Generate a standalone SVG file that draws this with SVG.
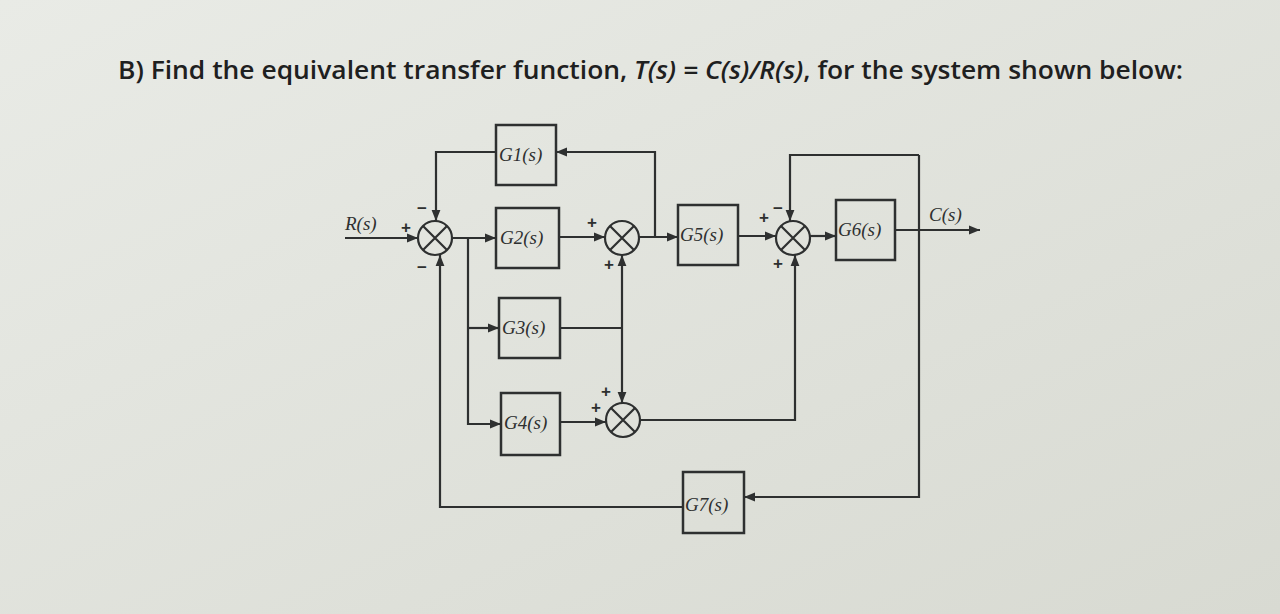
<svg xmlns="http://www.w3.org/2000/svg" width="1280" height="614" viewBox="0 0 1280 614">
<defs>
<linearGradient id="bg" x1="0" y1="0" x2="1" y2="1"><stop offset="0" stop-color="#e9ebe6"/><stop offset="1" stop-color="#d8dad2"/></linearGradient>
<marker id="a" viewBox="0 0 10 10" refX="10" refY="5" markerWidth="5" markerHeight="5" orient="auto"><path d="M0,1 L10,5 L0,9 z" fill="#2e3030"/></marker>
</defs>
<style>
.b{fill:none;stroke:#2e3030;stroke-width:2.5}
.w{fill:none;stroke:#2e3030;stroke-width:2.2}
.t{font-family:"Liberation Serif",serif;font-style:italic;font-size:19px;fill:#2e3030}
.s{font-family:"Liberation Sans",sans-serif;font-size:17px;font-weight:bold;fill:#2e3030}
</style>
<rect width="1280" height="614" fill="url(#bg)"/>
<text x="118" y="79" font-family="'Open Sans','Liberation Sans',sans-serif" font-size="25" font-weight="600" fill="#1e2020" textLength="1065" lengthAdjust="spacingAndGlyphs">B) Find the equivalent transfer function, <tspan font-style="italic">T(s) = C(s)/R(s)</tspan>, for the system shown below:</text>
<g id="connectors" class="w">
<path d="M345,238 H418" marker-end="url(#a)"/>
<path d="M496,152 H436 V221" marker-end="url(#a)"/>
<path d="M452,238 H496" marker-end="url(#a)"/>
<path d="M468,238 V424 H501" marker-end="url(#a)"/>
<path d="M468,328 H499" marker-end="url(#a)"/>
<path d="M559,237 H605" marker-end="url(#a)"/>
<path d="M560,328 H622"/>
<path d="M622,280 V255" marker-end="url(#a)"/>
<path d="M622,280 V403" marker-end="url(#a)"/>
<path d="M560,422 H606" marker-end="url(#a)"/>
<path d="M639,237 H678" marker-end="url(#a)"/>
<path d="M655,237 V152 H556" marker-end="url(#a)"/>
<path d="M738,236 H776" marker-end="url(#a)"/>
<path d="M919,155 H790 V221" marker-end="url(#a)"/>
<path d="M640,420 H795 V255" marker-end="url(#a)"/>
<path d="M810,236 H836" marker-end="url(#a)"/>
<path d="M895,230 H980" marker-end="url(#a)"/>
<path d="M919,155 V497 H744" marker-end="url(#a)"/>
<path d="M683,507 H440 V255" marker-end="url(#a)"/>
</g>
<g id="G1"><rect class="b" x="496" y="125" width="60" height="60"/><text class="t" x="499" y="161">G1(s)</text></g>
<g id="G2"><rect class="b" x="496" y="208" width="63" height="60"/><text class="t" x="500" y="244">G2(s)</text></g>
<g id="G3"><rect class="b" x="499" y="298" width="61" height="60"/><text class="t" x="502" y="334">G3(s)</text></g>
<g id="G4"><rect class="b" x="501" y="393" width="59" height="62"/><text class="t" x="504" y="429">G4(s)</text></g>
<g id="G5"><rect class="b" x="678" y="205" width="60" height="60"/><text class="t" x="680" y="241">G5(s)</text></g>
<g id="G6"><rect class="b" x="836" y="200" width="59" height="60"/><text class="t" x="838" y="236">G6(s)</text></g>
<g id="G7"><rect class="b" x="683" y="472" width="61" height="61"/><text class="t" x="685" y="511">G7(s)</text></g>
<g id="sum1" class="w"><circle cx="435" cy="238" r="17"/><path d="M423,226 L447,250 M447,226 L423,250"/></g>
<g id="sum2" class="w"><circle cx="622" cy="238" r="17"/><path d="M610,226 L634,250 M634,226 L610,250"/></g>
<g id="sum3" class="w"><circle cx="793" cy="238" r="17"/><path d="M781,226 L805,250 M805,226 L781,250"/></g>
<g id="sum4" class="w"><circle cx="623" cy="420" r="17"/><path d="M611,408 L635,432 M635,408 L611,432"/></g>
<g id="labels">
<text class="t" x="345" y="230">R(s)</text>
<text class="t" x="929" y="221">C(s)</text>
<text class="s" x="401" y="233">+</text><text class="s" x="417" y="214">−</text><text class="s" x="417" y="273">−</text>
<text class="s" x="587" y="228">+</text><text class="s" x="604" y="270">+</text>
<text class="s" x="759" y="223">+</text><text class="s" x="773" y="214">−</text><text class="s" x="773" y="269">+</text>
<text class="s" x="591" y="413">+</text><text class="s" x="601" y="397">+</text>
</g>
</svg>
